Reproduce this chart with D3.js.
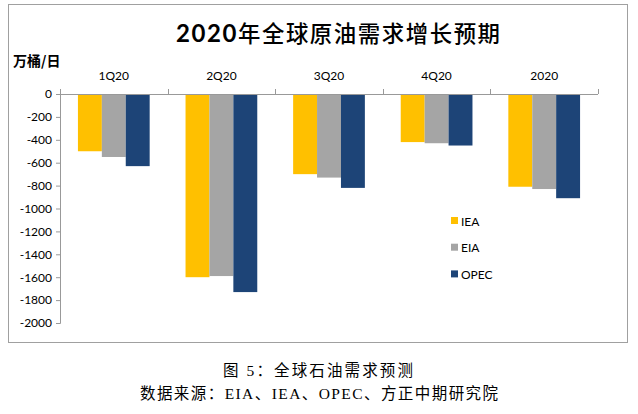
<!DOCTYPE html>
<html><head><meta charset="utf-8">
<script src="https://cdn.jsdelivr.net/npm/d3@7/dist/d3.min.js"></script>
<style>body{margin:0;background:#fff}svg{display:block}</style>
</head><body>
<svg id="c" width="638" height="414"></svg>
<script>
const categories = ["1Q20","2Q20","3Q20","4Q20","2020"];
const seriesNames = ["IEA","EIA","OPEC"];
const IEA  = [-500,-1600,-700,-420,-810];
const EIA  = [-550,-1590,-730,-430,-830];
const OPEC = [-630,-1730,-820,-450,-910];
const yTicks = [0,-200,-400,-600,-800,-1000,-1200,-1400,-1600,-1800,-2000];
const colors = ["#FFC000","#A5A5A5","#1D4477"];

(function(){
const seriesVals = [IEA, EIA, OPEC];
const svg = d3.select("#c");
const font = "Lato, 'Noto Sans CJK SC', sans-serif";

svg.append("rect").attr("x",8.5).attr("y",4.5).attr("width",619).attr("height",338)
  .attr("fill","#fff").attr("stroke","#a0a0a0").attr("stroke-width",1);

const pL = 60, pR = 598, pT = 94, pB = 323;
const x = d3.scaleBand().domain(categories).range([pL,pR]).paddingInner(0).paddingOuter(0);
const y = d3.scaleLinear().domain([-2000,0]).range([pB, pT]);
const barW = x.bandwidth()/4.5;
const groupOff = (x.bandwidth() - 3*barW)/2;

const t = svg.append("text").attr("x",176).attr("y",42).attr("fill","#000");
t.append("tspan").attr("font-size",24).attr("font-weight","bold").attr("font-family","Lato, sans-serif").text("2020");
t.append("tspan").attr("font-size",22.4).attr("font-weight",500).attr("font-family","'Noto Sans CJK SC', sans-serif").text("年全球原油需求增长预期");
t.attr("textLength",324).attr("lengthAdjust","spacing");

svg.append("text").attr("x",13).attr("y",66).attr("font-family","'Noto Sans CJK SC', sans-serif").attr("font-weight","bold")
  .attr("font-size",14).attr("fill","#000").text("万桶/日");

seriesVals.forEach((vals, si) => {
  svg.append("g").selectAll("rect").data(vals).join("rect")
    .attr("x",(d,i)=>x(categories[i]) + groupOff + si*barW)
    .attr("y",y(0))
    .attr("width",barW)
    .attr("height",d=>y(d)-y(0))
    .attr("fill",colors[si]);
});

const yAxis = d3.axisLeft(y).tickValues(yTicks).tickSize(4).tickPadding(4).tickFormat(d3.format("d"));
const gy = svg.append("g").attr("transform",`translate(${pL},0)`).call(yAxis);
gy.select(".domain").attr("stroke","#999");
gy.selectAll(".tick line").attr("stroke","#999");
gy.selectAll(".tick text").attr("font-family",font).attr("font-size",12).attr("fill","#000")
  .text(d=>String(d));

const gx = svg.append("g").attr("transform",`translate(0,${y(0)})`);
gx.append("line").attr("x1",pL).attr("x2",pR).attr("y1",0.5).attr("y2",0.5).attr("stroke","#999");
const bounds = categories.map(c=>x(c)).concat([pR]);
gx.selectAll("line.t").data(bounds).join("line").attr("class","t")
  .attr("x1",d=>Math.round(d)+0.5).attr("x2",d=>Math.round(d)+0.5).attr("y1",0).attr("y2",-5).attr("stroke","#999");
svg.append("g").selectAll("text").data(categories).join("text")
  .attr("x",d=>x(d)+x.bandwidth()/2).attr("y",80).attr("text-anchor","middle")
  .attr("font-family",font).attr("font-size",12).attr("fill","#000").text(d=>d);

const lg = svg.append("g");
seriesNames.forEach((n,i)=>{
  const ly = 221 + i*26.7;
  lg.append("rect").attr("x",451).attr("y",ly-4).attr("width",7).attr("height",7).attr("fill",colors[i]);
  lg.append("text").attr("x",461).attr("y",ly+4.5).attr("font-family",font).attr("font-size",12)
    .attr("fill","#000").text(n);
});

const capFont = "'Liberation Serif','Noto Sans CJK SC',serif";
svg.append("text").attr("x",223).attr("y",376)
  .attr("font-family",capFont).attr("font-size",15.5).attr("fill","#000")
  .attr("textLength",190).attr("lengthAdjust","spacing").text("图 5：全球石油需求预测");
svg.append("text").attr("x",140).attr("y",399)
  .attr("font-family",capFont).attr("font-size",15.5).attr("fill","#000")
  .attr("textLength",358).attr("lengthAdjust","spacing").text("数据来源：EIA、IEA、OPEC、方正中期研究院");
})();
</script>
</body></html>
